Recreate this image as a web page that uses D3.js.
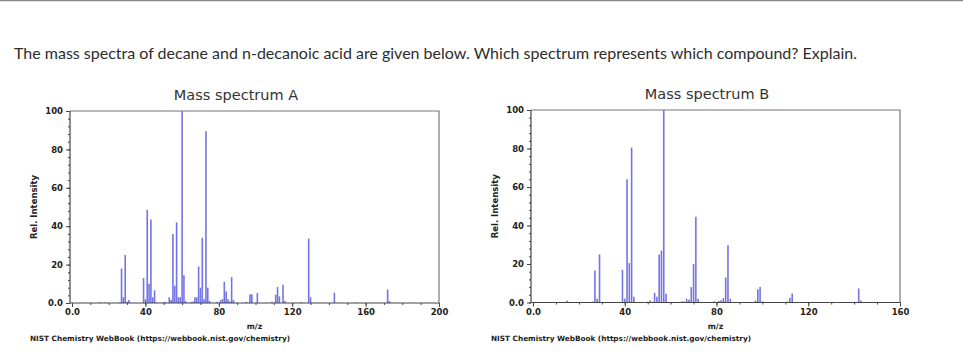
<!DOCTYPE html>
<html><head><meta charset="utf-8">
<script src="https://cdn.jsdelivr.net/npm/d3@7"></script>
<style>body{margin:0;background:#fff;}svg{display:block;}</style>
</head><body>
<script>
const heading = "The mass spectra of decane and n-decanoic acid are given below. Which spectrum represents which compound? Explain.";
const titleA = "Mass spectrum A";
const titleB = "Mass spectrum B";
const credit = "NIST Chemistry WebBook (https://webbook.nist.gov/chemistry)";

const massA = [15,18,26,27,28,29,30,31,39,40,41,42,43,44,45,46,50,51,53,54,55,56,57,58,59,60,61,62,65,66,67,68,69,70,71,72,73,74,75,79,81,82,83,84,85,86,87,88,95,97,98,101,109,111,112,113,115,116,125,129,130,143,155,172,173];
const intA  = [0.5,0.3,0.4,18,3,25,0.6,1.5,13,2,48.5,10,43.5,3,6.6,0.4,0.4,0.6,3,1.5,36,9,42,3,3,100,14.5,1,0.5,0.8,3,3,19,8,34,2,89.5,8,1,0.6,1.5,2,11,6,2,0.8,13.5,1.5,0.6,4.5,4.5,5.2,0.6,4.3,8.3,3.5,9.5,1,0.5,33.5,3,5.3,0.4,7,1];

const massB = [14,15,26,27,28,29,39,40,41,42,43,44,50,51,52,53,54,55,56,57,58,65,66,67,68,69,70,71,72,77,79,81,82,83,84,85,86,97,98,99,100,111,112,113,127,141,142,143];
const intB  = [0.4,1,0.5,16.6,2,25,17,2,64,20.5,80.5,3,0.4,1.2,0.4,5,3,25,27,100,4.5,0.6,0.5,2,1.5,8,20,44.5,2,0.3,0.6,0.8,1.2,2.3,13,29.8,2,1,6.9,8.1,0.6,0.5,2.3,4.7,0.3,0.3,7.3,1];

const yTicks = [0,20,40,60,80,100];
const xTicksA = [0,40,80,120,160,200];
const xTicksB = [0,40,80,120,160];
const fmt = d => d === 0 ? "0.0" : String(d);

const W = 963, H = 354;
const svg = d3.select("body").append("svg").attr("width", W).attr("height", H);

svg.append("line").attr("x1",0).attr("x2",W).attr("y1",0.5).attr("y2",0.5)
  .attr("stroke","#8a8a8a").attr("stroke-width",1.5);

svg.append("text").attr("x",14).attr("y",59).text(heading)
  .attr("font-family","Lato").attr("font-size",16).attr("fill","#2d2d2d");

function panel(cfg){
  const x = d3.scaleLinear().domain([0,cfg.xmax]).range([cfg.x0, cfg.x1]);
  const y = d3.scaleLinear().domain([0,100]).range([cfg.yb, cfg.yt]);
  const g = svg.append("g");
  g.append("path").attr("d",`M${cfg.ax},${cfg.yt}H${cfg.x1}V${cfg.yb}`)
    .attr("fill","none").attr("stroke","#777").attr("stroke-width",1.2);
  g.selectAll("line.pk").data(cfg.mass).join("line").attr("class","pk")
    .attr("x1",d=>x(d)).attr("x2",d=>x(d))
    .attr("y1",y(0)).attr("y2",(d,i)=>y(cfg.inten[i]))
    .attr("stroke","#7474e6").attr("stroke-width",1.6);
  const ya = g.append("g").attr("transform",`translate(${cfg.ax},0)`)
    .call(d3.axisLeft(y).tickValues(yTicks).tickFormat(fmt).tickSize(4).tickPadding(3));
  g.append("g").attr("transform",`translate(${cfg.ax},0)`)
    .call(d3.axisLeft(y).tickValues(d3.range(0,101,4)).tickFormat("").tickSize(2))
    .call(s=>s.select(".domain").remove());
  const xa = g.append("g").attr("transform",`translate(0,${cfg.yb})`)
    .call(d3.axisBottom(x).tickValues(cfg.xt).tickFormat(fmt).tickSize(4).tickPadding(2));
  g.append("g").attr("transform",`translate(0,${cfg.yb})`)
    .call(d3.axisBottom(x).tickValues(d3.range(0,cfg.xmax+1,10)).tickFormat("").tickSize(2))
    .call(s=>s.select(".domain").remove());
  [ya,xa].forEach(a=>{
    a.select(".domain").attr("d", null);
    a.selectAll("text").attr("font-family","DejaVu Sans").attr("font-weight","bold")
      .attr("font-size",8.5).attr("fill","#222");
  });
  g.selectAll(".tick line").attr("stroke","#444");
  g.append("line").attr("x1",cfg.ax).attr("x2",cfg.ax).attr("y1",cfg.yt).attr("y2",cfg.yb).attr("stroke","#444").attr("stroke-width",1.2);
  g.append("line").attr("x1",cfg.ax).attr("x2",cfg.x1).attr("y1",cfg.yb).attr("y2",cfg.yb).attr("stroke","#444").attr("stroke-width",1.2);
  g.append("text").attr("x",cfg.tc).attr("y",cfg.yt-11).attr("text-anchor","middle")
    .attr("font-family","DejaVu Sans").attr("font-size",14.5).attr("fill","#333").text(cfg.title);
  g.append("text").attr("transform",`translate(${cfg.ax-33},${(cfg.yt+cfg.yb)/2}) rotate(-90)`)
    .attr("text-anchor","middle").attr("font-family","DejaVu Sans").attr("font-weight","bold")
    .attr("font-size",8.5).attr("fill","#222").text("Rel. Intensity");
  g.append("text").attr("x",(cfg.ax+cfg.x1)/2).attr("y",cfg.yb+26).attr("text-anchor","middle")
    .attr("font-family","DejaVu Sans").attr("font-weight","bold").attr("font-size",7.8).attr("fill","#222").text("m/z");
  g.append("text").attr("x",cfg.ax-40).attr("y",cfg.yb+38)
    .attr("font-family","DejaVu Sans").attr("font-weight","bold").attr("font-size",7.3).attr("fill","#222").text(credit);
}

panel({mass:massA, inten:intA, xmax:200, xt:xTicksA, ax:70, x0:72, x1:439, yb:303, yt:111, tc:236, title:titleA});
panel({mass:massB, inten:intB, xmax:160, xt:xTicksB, ax:531, x0:533, x1:900, yb:302.5, yt:110, tc:707, title:titleB});
</script>
</body></html>
